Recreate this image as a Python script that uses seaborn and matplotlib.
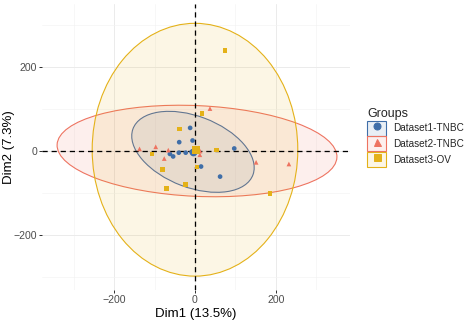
import numpy as np
import pandas as pd
import matplotlib
matplotlib.use("Agg")
import matplotlib.pyplot as plt
import seaborn as sns
from matplotlib.patches import Ellipse, Patch
from matplotlib.lines import Line2D
from matplotlib.legend_handler import HandlerTuple

groups = ["Dataset1-TNBC", "Dataset2-TNBC", "Dataset3-OV"]
colors = ["#3F6EA8", "#EE7360", "#E4B118"]
markers = ["o", "^", "s"]

d1_x = [-12, -6, -39, -40, -62, -54, -23, 15, 62, 97, -8, 2]
d1_y = [55, 25, 21, -4, -7, -13, -4, -37, -61, 6, -2, 0]
d2_x = [-137, -97, -66, -76, 12, 37, 151, 232]
d2_y = [5, 10, 2, -18, -9, 101, -27, -31]
d3_x = [74, 17, -39, -106, -80, -70, -23, 5, 54, 185, 2, 6]
d3_y = [240, 90, 52, -7, -44, -89, -79, -38, 2, -101, 5, 2]

# ellipse parameters per group: center x, center y, width, height, angle
ell_cx = [-5, 5, 0]
ell_cy = [-2, 0, 3]
ell_w = [316, 692, 508]
ell_h = [170, 216, 602]
ell_ang = [-20, -2.5, 0]

xlabel = "Dim1 (13.5%)"
ylabel = "Dim2 (7.3%)"
legend_title = "Groups"

df = pd.DataFrame({
    "x": d1_x + d2_x + d3_x,
    "y": d1_y + d2_y + d3_y,
    "Groups": [groups[0]] * len(d1_x) + [groups[1]] * len(d2_x) + [groups[2]] * len(d3_x),
})

sns.set_theme(style="whitegrid")
plt.rcParams["font.family"] = ["Liberation Sans", "DejaVu Sans"]

fig = plt.figure(figsize=(474 / 72, 323 / 72), dpi=72)
ax = fig.add_axes([42 / 474, 33 / 323, 308 / 474, 286 / 323])
ax.set_facecolor("white")

pal = dict(zip(groups, colors))
mk = dict(zip(groups, markers))
FILL_A = 0.11

# ellipses
for i, g in enumerate(groups):
    e = Ellipse((ell_cx[i], ell_cy[i]), ell_w[i], ell_h[i], angle=ell_ang[i],
                facecolor=matplotlib.colors.to_rgba(colors[i], FILL_A),
                edgecolor=colors[i], linewidth=1.1, zorder=2)
    ax.add_patch(e)

sns.scatterplot(data=df, x="x", y="y", hue="Groups", style="Groups",
                palette=pal, markers=mk, s=22, linewidth=0, ax=ax,
                legend=False, zorder=4)

# group mean points
for i, g in enumerate(groups):
    sub = df[df["Groups"] == g]
    ax.scatter([sub["x"].mean()], [sub["y"].mean()], marker=markers[i],
               s=60, color=colors[i], linewidths=0, zorder=5)

ax.axhline(0, color="black", linestyle=(0, (4, 3)), linewidth=1.3, zorder=3)
ax.axvline(0, color="black", linestyle=(0, (4, 3)), linewidth=1.3, zorder=3)

ax.set_xlim(-378, 383)
ax.set_ylim(-331, 350)
ax.set_xticks([-200, 0, 200])
ax.set_yticks([-200, 0, 200])
ax.set_xticks([-300, -100, 100, 300], minor=True)
ax.set_yticks([-300, -100, 100, 300], minor=True)
ax.grid(which="major", color="#EBEBEB", linewidth=1.0)
ax.grid(which="minor", color="#F2F2F2", linewidth=0.6)
for s in ax.spines.values():
    s.set_visible(False)
ax.tick_params(axis="both", which="major", length=3, width=1, color="#333333",
               labelsize=10.5, labelcolor="#4D4D4D", pad=2, bottom=True, left=True)
ax.tick_params(which="minor", length=0)
ax.set_xlabel(xlabel, fontsize=13.3, color="black")
ax.set_ylabel(ylabel, fontsize=13.3, color="black")
ax.xaxis.set_label_coords(0.5, (290 - 314) / 286, transform=ax.transAxes)
ax.xaxis.label.set_va("center")
ax.yaxis.set_label_coords((9 - 42) / 308, 0.5, transform=ax.transAxes)
ax.yaxis.label.set_va("center")
ax.set_axisbelow(True)

handles = []
for i, g in enumerate(groups):
    box = Patch(facecolor=matplotlib.colors.to_rgba(colors[i], FILL_A), edgecolor=colors[i], linewidth=1.1)
    pt = Line2D([], [], marker=markers[i], color=colors[i], linestyle="", markersize=7)
    handles.append((box, pt))
leg = fig.legend(handles, groups, title=legend_title, loc="upper left",
                 bbox_to_anchor=(367 / 474, 1 - 108 / 323), frameon=False,
                 handler_map={tuple: HandlerTuple(ndivide=1)},
                 handlelength=1.9, handleheight=1.9, handletextpad=0.7,
                 labelspacing=0.08, fontsize=10, title_fontsize=12.5, borderaxespad=0,
                 borderpad=0)
leg._legend_box.align = "left"

fig.savefig("out.png", dpi=72)
